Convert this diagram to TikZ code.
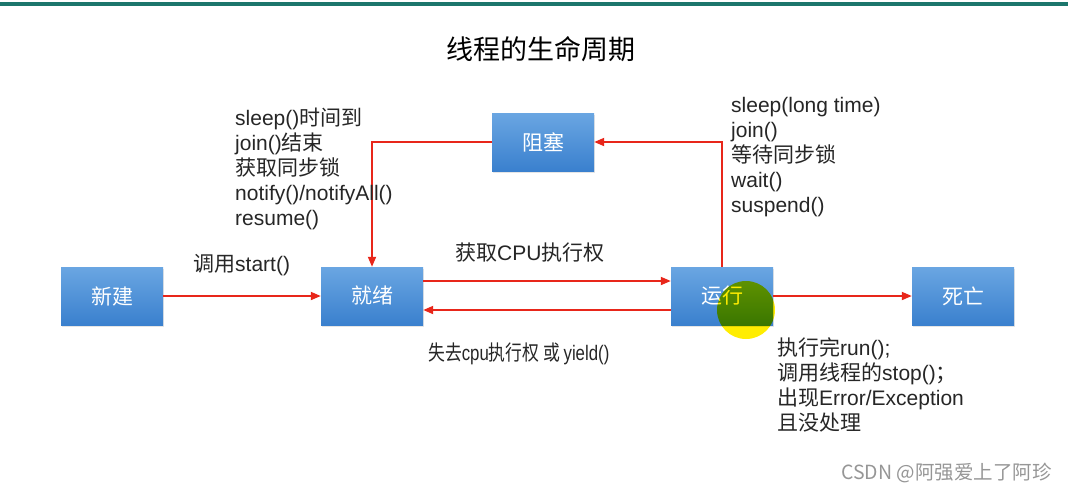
\documentclass[tikz,border=0pt]{standalone}
\usepackage{fontspec}
\setmainfont{Liberation Sans}
\newfontfamily\cjk{Noto Sans CJK SC}
\usetikzlibrary{arrows.meta,positioning,shadows,calc}
\definecolor{boxTop}{RGB}{106,166,226}
\definecolor{boxBot}{RGB}{58,128,206}
\definecolor{eRed}{RGB}{232,38,26}
\definecolor{barTeal}{RGB}{28,118,108}
\definecolor{markGray}{RGB}{150,150,150}
\tikzstyle{sBox}=[rectangle, minimum width=102pt, minimum height=58pt, inner sep=0pt, top color=boxTop, bottom color=boxBot, draw=none, text=white, font=\cjk\fontsize{21}{21}\selectfont, drop shadow={shadow xshift=1pt, shadow yshift=-2pt, opacity=0.2}]
\tikzstyle{eArr}=[draw=eRed, line width=1.8pt, -{Triangle[length=10pt,width=8pt]}]
\tikzstyle{tLbl}=[inner sep=0pt, align=left, font=\fontsize{21}{25}\selectfont, text=black!85]
\begin{document}
\begin{tikzpicture}[x=1pt,y=-1pt]

                \useasboundingbox (0,0) rectangle (1068,493);
                \fill[white] (0,0) rectangle (1068,493);
                \fill[barTeal] (0,2) rectangle (1068,6);

                \draw (541,49) node (title) {\cjk\fontsize{27}{27}\selectfont 线程的生命周期};

                \draw (112,296) node[sBox] (xj) {新建};
                \draw (372,296) node[sBox] (jx) {就绪};
                \draw (543,142) node[sBox] (zs) {阻塞};
                \draw (722,296) node[sBox] (yx) {运行};
                \draw (963,296) node[sBox] (sw) {死亡};

                % states
                \path
                    (xj) edge[eArr] (jx)
                    (yx) edge[eArr] (sw)
                ;
                \draw[eArr] ([yshift=15pt]jx.east) -- ([yshift=15pt]yx.west);
                \draw[eArr] ([yshift=-14pt]yx.west) -- ([yshift=-14pt]jx.east);
                \draw[eArr] (zs.west) -| (jx.north);
                \draw[eArr] (yx.north) |- (zs.east);

                % labels
                \draw (193,265) node[tLbl, anchor=west] (lStart) {{\cjk 调用}start()};
                \draw (455,253) node[tLbl, anchor=west] (lGet) {{\cjk 获取}CPU{\cjk 执行权}};
                \draw (428,354) node[tLbl, anchor=west] (lLose) {\scalebox{0.8}[1]{{\cjk 失去}cpu{\cjk 执行权 或 }yield()}};
                \draw (235,108) node[tLbl, anchor=north west] (lWake) {sleep(){\cjk 时间到}\\join(){\cjk 结束}\\{\cjk 获取同步锁}\\notify()/notifyAll()\\resume()};
                \draw (731,97) node[tLbl, anchor=north west] (lBlock) {sleep(long time)\\join()\\{\cjk 等待同步锁}\\wait()\\suspend()};
                \draw (777,337) node[tLbl, anchor=north west] (lDead) {{\cjk 执行完}run();\\{\cjk 调用线程的}stop(){\cjk ；}\\{\cjk 出现}Error/Exception\\{\cjk 且没处理}};

                % pointer
                \fill[yellow!95!orange, blend mode=multiply] (746,310) circle (29pt);

                \draw (841,473) node[anchor=west, inner sep=0pt, text=markGray, font=\cjk\fontsize{19.5}{19.5}\selectfont] (mark) {CSDN @阿强爱上了阿珍};

        \end{tikzpicture}
\end{document}
